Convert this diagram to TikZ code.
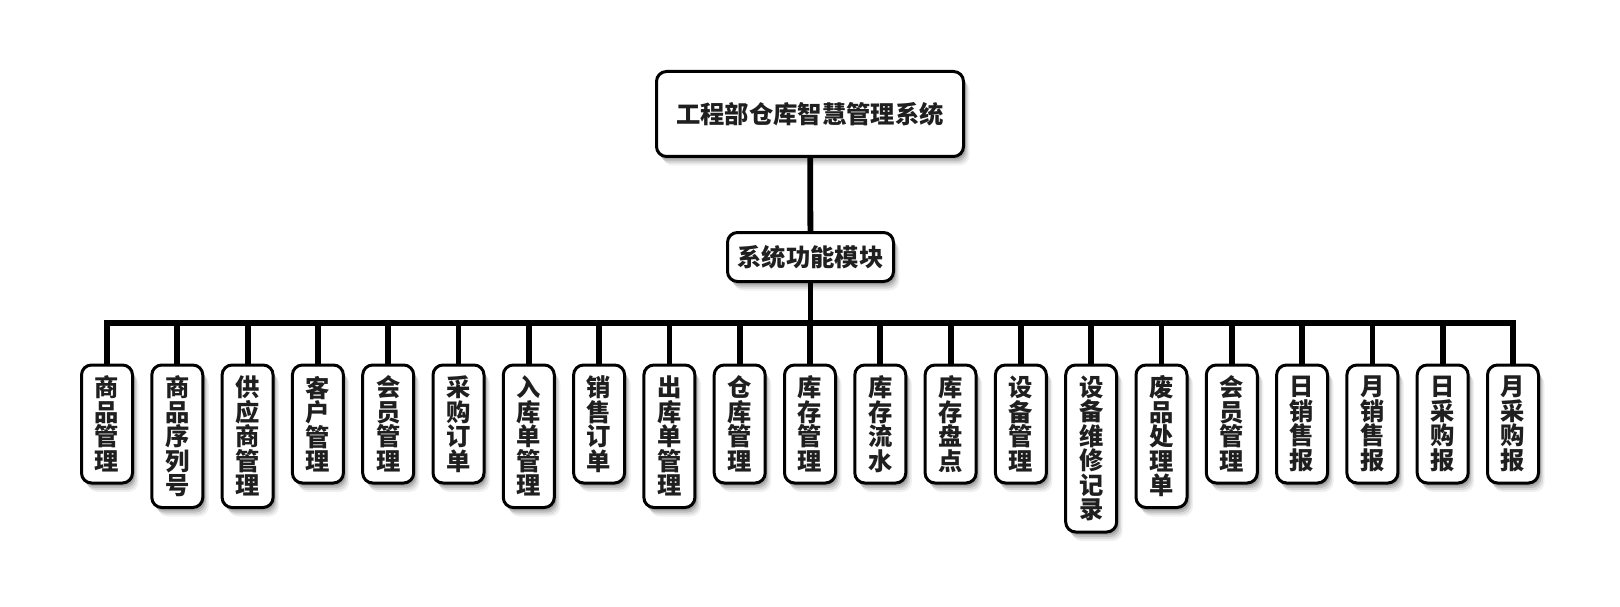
\documentclass[tikz,border=0pt]{standalone}
\usepackage{fontspec}
\newfontfamily\cjk{Noto Sans CJK SC}
\usetikzlibrary{shadows,backgrounds}
\tikzset{
  softshadow/.style={
    drop shadow={shadow xshift=2pt,shadow yshift=-3pt,opacity=0.14,fill=black},
    drop shadow={shadow xshift=3pt,shadow yshift=-5pt,opacity=0.12,fill=black},
    drop shadow={shadow xshift=4.5pt,shadow yshift=-7pt,opacity=0.09,fill=black},
    drop shadow={shadow xshift=6pt,shadow yshift=-9pt,opacity=0.06,fill=black}},
  box/.style={draw=black, line width=3pt, rounded corners=10pt, fill=white, softshadow,
    font=\cjk\bfseries\fontsize{24.3}{24.5}\selectfont, inner sep=0pt, align=center, text=black!88},
  leaf/.style={box, minimum width=51pt, minimum height={24.5pt*#1+20pt}, anchor=north},
  conn/.style={line width=5.8pt, draw=black}
}
\begin{document}
\begin{tikzpicture}[x=1pt,y=1pt]
\useasboundingbox (0,0) rectangle (1620,-607);
\node[box, minimum width=307pt, minimum height=85pt] (sys) at (810,-114) {工程部仓库智慧管理系统};
\node[box, minimum width=166pt, minimum height=49pt] (mod) at (810.5,-257) {系统功能模块};
\foreach \t/\n [count=\i] in {
  {商\\品\\管\\理}/4, {商\\品\\序\\列\\号}/5, {供\\应\\商\\管\\理}/5, {客\\户\\管\\理}/4,
  {会\\员\\管\\理}/4, {采\\购\\订\\单}/4, {入\\库\\单\\管\\理}/5, {销\\售\\订\\单}/4,
  {出\\库\\单\\管\\理}/5, {仓\\库\\管\\理}/4, {库\\存\\管\\理}/4, {库\\存\\流\\水}/4,
  {库\\存\\盘\\点}/4, {设\\备\\管\\理}/4, {设\\备\\维\\修\\记\\录}/6, {废\\品\\处\\理\\单}/5,
  {会\\员\\管\\理}/4, {日\\销\\售\\报}/4, {月\\销\\售\\报}/4, {日\\采\\购\\报}/4, {月\\采\\购\\报}/4}
{
  \node[leaf=\n] (l\i) at ({107+70.3*(\i-1)}, -363.5) {\t};
}
\coordinate (bus) at (mod.south |- 0,-323);
\begin{scope}[on background layer]
  \draw[conn] (sys) -- (mod);
  \draw[conn] (mod.south) -- (bus);
  \foreach \i in {1,...,21} { \draw[conn] (bus) -| (l\i.north); }
\end{scope}
\end{tikzpicture}
\end{document}
